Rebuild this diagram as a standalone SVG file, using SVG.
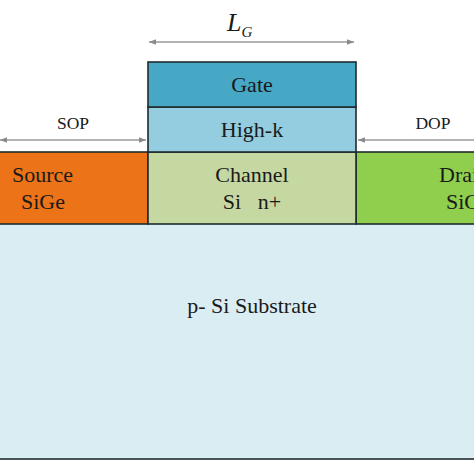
<svg xmlns="http://www.w3.org/2000/svg" width="474" height="474" viewBox="0 0 474 474">
<defs>
<style>
.t{font-family:"Liberation Serif","Times New Roman",serif;fill:#1a1a1a}
.b{stroke:#1e2b2e;stroke-width:1.6}
.dim{stroke:#9a9a9a;stroke-width:1.5;fill:none}
</style>
<marker id="ah" viewBox="0 0 10 10" refX="10" refY="5" markerWidth="7" markerHeight="7" markerUnits="userSpaceOnUse" orient="auto-start-reverse">
<path d="M0,1 L10,5 L0,9 z" fill="#8a8a8a"/>
</marker>
</defs>
<rect width="474" height="474" fill="#ffffff"/>
<g id="substrate">
<rect x="-2" y="224" width="478" height="235" fill="#daedf3"/>
<line x1="0" y1="459" x2="474" y2="459" stroke="#4a5558" stroke-width="2"/>
<text class="t" x="252" y="313" font-size="22" text-anchor="middle">p- Si Substrate</text>
</g>
<g id="source">
<rect x="-2" y="152" width="150" height="72" fill="#ec7317" class="b"/>
<text class="t" x="12" y="182" font-size="22">Source</text>
<text class="t" x="21" y="209" font-size="22">SiGe</text>
</g>
<g id="drain">
<rect x="356" y="152" width="120" height="72" fill="#90cf4e" class="b"/>
<text class="t" x="439" y="182" font-size="22">Drain</text>
<text class="t" x="446" y="209" font-size="22">SiGe</text>
</g>
<g id="channel">
<rect x="148" y="152" width="208" height="72" fill="#c6d8a2" class="b"/>
<text class="t" x="252" y="182" font-size="22" text-anchor="middle">Channel</text>
<text class="t" x="252" y="209" font-size="22" text-anchor="middle" xml:space="preserve">Si   n+</text>
</g>
<g id="highk">
<rect x="148" y="107" width="208" height="45" fill="#93cddf" class="b"/>
<text class="t" x="252" y="137" font-size="22" text-anchor="middle">High-k</text>
</g>
<g id="gate">
<rect x="148" y="62" width="208" height="45" fill="#46a8c5" class="b"/>
<text class="t" x="252" y="92" font-size="22" text-anchor="middle">Gate</text>
</g>
<g id="connectors">
<line class="dim" x1="149" y1="42" x2="354" y2="42" marker-start="url(#ah)" marker-end="url(#ah)"/>
<line class="dim" x1="0" y1="140" x2="146" y2="140" marker-start="url(#ah)" marker-end="url(#ah)"/>
<line class="dim" x1="358" y1="140" x2="476" y2="140" marker-start="url(#ah)"/>
</g>
<g id="labels">
<text class="t" x="227" y="31" font-size="26" font-style="italic">L<tspan font-size="15" dy="6">G</tspan></text>
<text class="t" x="73" y="129" font-size="17.5" text-anchor="middle">SOP</text>
<text class="t" x="433" y="129" font-size="17.5" text-anchor="middle">DOP</text>
</g>
</svg>
